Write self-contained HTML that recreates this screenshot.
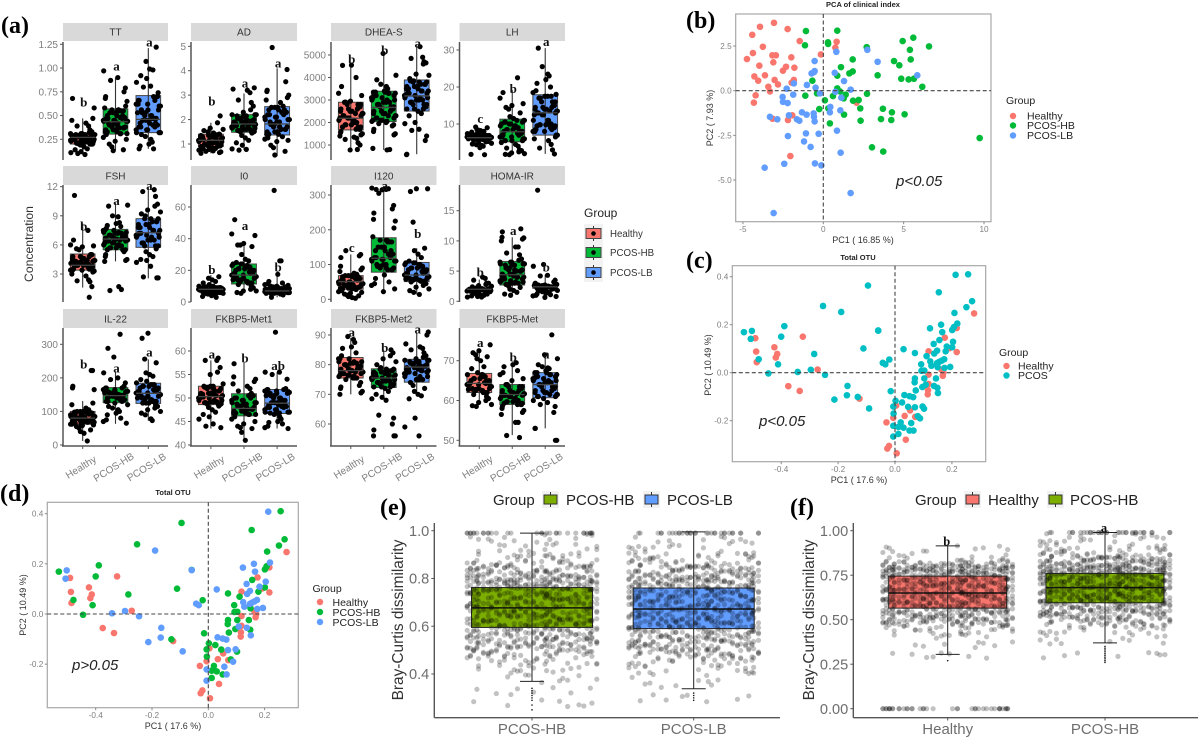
<!DOCTYPE html>
<html lang="en">
<head>
<meta charset="utf-8">
<title>Clinical index and microbiome figure</title>
<style>
html,body{margin:0;padding:0;background:#fff;}
#figure{display:block;width:1200px;height:737px;filter:blur(.35px);font-family:"Liberation Sans",sans-serif;}
.panel-letter{font-family:"Liberation Serif",serif;font-weight:bold;font-size:24px;fill:#000;}
.chart-title{font-size:7.5px;font-weight:bold;fill:#222;text-anchor:middle;}
.axis-title{font-size:9px;fill:#333;text-anchor:middle;}
.legend-title{font-size:10.5px;fill:#222;}
.legend-label{font-size:10.5px;fill:#222;}
.p-note{font-size:15px;font-style:italic;fill:#222;}
.big-legend{font-size:15px;fill:#222;}
.big-title{font-size:15.4px;fill:#333;text-anchor:middle;}
</style>
</head>
<body>
<svg id="figure" xmlns="http://www.w3.org/2000/svg" width="1200" height="737" viewBox="0 0 1200 737">
  <rect x="0" y="0" width="1200" height="737" fill="#fff"/>
  <g id="layer"></g>

  <text class="panel-letter" x="1" y="33">(a)</text>
  <text class="panel-letter" x="686" y="28">(b)</text>
  <text class="panel-letter" x="686" y="268">(c)</text>
  <text class="panel-letter" x="0" y="501">(d)</text>
  <text class="panel-letter" x="380" y="515">(e)</text>
  <text class="panel-letter" x="790" y="515">(f)</text>

  <text font-size="12.2" fill="#333" text-anchor="middle" transform="translate(33,244) rotate(-90)">Concentration</text>

  <g>
    <text x="584" y="217" font-size="12" fill="#222">Group</text>
    <rect x="584" y="224" width="19" height="58" fill="#f2f2f2"/>
    <line x1="593.5" x2="593.5" y1="226" y2="241" stroke="#333"/>
    <rect x="586" y="228.5" width="15" height="10" fill="#F8766D" stroke="#444"/>
    <circle cx="593.5" cy="233.5" r="2.3" fill="#000"/>
    <text x="610" y="237" font-size="9.7" fill="#333">Healthy</text>
    <line x1="593.5" x2="593.5" y1="245" y2="260" stroke="#333"/>
    <rect x="586" y="247.5" width="15" height="10" fill="#00BA38" stroke="#444"/>
    <circle cx="593.5" cy="252.5" r="2.3" fill="#000"/>
    <text x="610" y="256" font-size="9.7" fill="#333">PCOS-HB</text>
    <line x1="593.5" x2="593.5" y1="265" y2="280" stroke="#333"/>
    <rect x="586" y="267.5" width="15" height="10" fill="#619CFF" stroke="#444"/>
    <circle cx="593.5" cy="272.5" r="2.3" fill="#000"/>
    <text x="610" y="276" font-size="9.7" fill="#333">PCOS-LB</text>
  </g>

  <text class="chart-title" x="863" y="7">PCA of clinical index</text>
  <text class="axis-title" x="863" y="243">PC1 ( 16.85 %)</text>
  <text class="axis-title" transform="translate(713,118) rotate(-90)">PC2 ( 7.93 %)</text>
  <text class="p-note" x="896" y="186">p&lt;0.05</text>
  <g>
    <text class="legend-title" x="1006" y="104">Group</text>
    <circle cx="1013" cy="116" r="3.2" fill="#F8766D"/>
    <text class="legend-label" x="1027" y="119.5">Healthy</text>
    <circle cx="1013" cy="125.5" r="3.2" fill="#00BA38"/>
    <text class="legend-label" x="1027" y="129">PCOS-HB</text>
    <circle cx="1013" cy="135.5" r="3.2" fill="#619CFF"/>
    <text class="legend-label" x="1027" y="139">PCOS-LB</text>
  </g>

  <text class="chart-title" x="858" y="260">Total OTU</text>
  <text class="axis-title" x="859" y="483">PC1 ( 17.6 %)</text>
  <text class="axis-title" transform="translate(711,365) rotate(-90)">PC2 ( 10.49 %)</text>
  <text class="p-note" x="759" y="426">p&lt;0.05</text>
  <g>
    <text class="legend-title" x="999" y="356">Group</text>
    <circle cx="1006.5" cy="366" r="3.2" fill="#F8766D"/>
    <text class="legend-label" x="1018" y="369.5">Healthy</text>
    <circle cx="1006.5" cy="375.5" r="3.2" fill="#00BFC4"/>
    <text class="legend-label" x="1018" y="379">PCOS</text>
  </g>

  <text class="chart-title" x="173" y="495">Total OTU</text>
  <text class="axis-title" x="173" y="729">PC1 ( 17.6 %)</text>
  <text class="axis-title" transform="translate(26,605) rotate(-90)">PC2 ( 10.49 %)</text>
  <text class="p-note" x="72" y="670">p&gt;0.05</text>
  <g>
    <text class="legend-title" x="312.5" y="592">Group</text>
    <circle cx="320" cy="602" r="3.2" fill="#F8766D"/>
    <text class="legend-label" x="332.5" y="606">Healthy</text>
    <circle cx="320" cy="612" r="3.2" fill="#00BA38"/>
    <text class="legend-label" x="332.5" y="616">PCOS-HB</text>
    <circle cx="320" cy="622" r="3.2" fill="#619CFF"/>
    <text class="legend-label" x="332.5" y="626">PCOS-LB</text>
  </g>

  <g>
    <text class="big-legend" x="493" y="505">Group</text>
    <rect x="542" y="491" width="17" height="17" fill="#f2f2f2"/>
    <line x1="550.5" x2="550.5" y1="492" y2="507" stroke="#333"/>
    <rect x="544" y="495" width="13" height="9" fill="#7CAE00" stroke="#333"/>
    <text class="big-legend" x="566" y="505">PCOS-HB</text>
    <rect x="643" y="491" width="17" height="17" fill="#f2f2f2"/>
    <line x1="651.5" x2="651.5" y1="492" y2="507" stroke="#333"/>
    <rect x="645" y="495" width="13" height="9" fill="#619CFF" stroke="#333"/>
    <text class="big-legend" x="667" y="505">PCOS-LB</text>
  </g>
  <text class="big-title" transform="translate(403,620) rotate(-90)">Bray-Curtis dissimilarity</text>

  <g>
    <text class="big-legend" x="915" y="505">Group</text>
    <rect x="964" y="491" width="17" height="17" fill="#f2f2f2"/>
    <line x1="972.5" x2="972.5" y1="492" y2="507" stroke="#333"/>
    <rect x="966" y="495" width="13" height="9" fill="#F8766D" stroke="#333"/>
    <text class="big-legend" x="988" y="505">Healthy</text>
    <rect x="1047" y="491" width="17" height="17" fill="#f2f2f2"/>
    <line x1="1055.5" x2="1055.5" y1="492" y2="507" stroke="#333"/>
    <rect x="1049" y="495" width="13" height="9" fill="#7CAE00" stroke="#333"/>
    <text class="big-legend" x="1070" y="505">PCOS-HB</text>
  </g>
  <text class="big-title" transform="translate(814,620) rotate(-90)">Bray-Curtis dissimilarity</text>
</svg>

<script>
const categories = ['Healthy','PCOS-HB','PCOS-LB'];
const pointJitter = [-.31,.12,-.05,.28,-.19,.35,.02,-.36,.2,-.11,.31,-.25,.07,-.02,.24,-.33,.16,-.15,.37,-.07,.1,-.28,.3,-.21,.04,.18,-.37,.26,-.09,.14,-.17,.33,-.3,.08,-.23,.22,-.01];

const ttTicks = [.25,.5,.75,1,1.25];
const ttBoxes = [[.09,.2,.27,.31,.47],[.135,.305,.435,.57,.9],[.15,.32,.46,.71,1.21]];
const ttLetters = ['b','a','a'];
const ttLetterY = [.636,1.015,1.27];
const ttHealthy = [.68,.58,.47,.45,.42,.39,.39,.35,.33,.32,.31,.3,.3,.29,.28,.27,.27,.26,.25,.25,.24,.23,.22,.21,.2,.2,.19,.17,.15,.14,.12,.11,.09,.1];
const ttHB = [.97,.9,.87,.79,.75,.7,.68,.65,.6,.58,.56,.55,.53,.5,.48,.47,.45,.44,.42,.4,.38,.37,.35,.33,.31,.3,.27,.25,.23,.2,.17,.14,.13];
const ttLB = [1.22,1.07,.99,.98,.92,.89,.85,.81,.8,.74,.7,.66,.62,.6,.56,.53,.5,.47,.45,.42,.4,.38,.35,.32,.3,.28,.25,.22,.2,.18,.15,.15];

const adTicks = [1,2,3,4,5];
const adBoxes = [[.62,.9,1.15,1.4,1.87],[.75,1.48,1.82,2.2,3.07],[.5,1.37,1.82,2.53,4.1]];
const adLetters = ['b','a','a'];
const adLetterY = [2.73,3.48,4.3];
const adHealthy = [2.15,1.87,1.65,1.6,1.55,1.5,1.45,1.4,1.35,1.3,1.25,1.2,1.15,1.1,1.05,1,.95,.92,.9,.85,.82,.8,.78,.75,.72,.7,.68,.65,.62];
const adHB = [3.3,3.25,3.2,3.1,2.8,2.7,2.55,2.4,2.3,2.2,2.15,2.05,2,1.95,1.9,1.85,1.8,1.75,1.7,1.65,1.6,1.55,1.5,1.45,1.35,1.25,1.15,1.05,.95,.8,.78,.75];
const adLB = [4.95,4.05,3.55,3.2,3.15,3,2.9,2.8,2.7,2.55,2.5,2.4,2.3,2.2,2.1,2,1.9,1.8,1.7,1.6,1.5,1.4,1.3,1.25,1.2,1.15,1.1,.95,.85,.7,.55];

const dheaTicks = [1000,2000,3000,4000,5000];
const dheaBoxes = [[780,1670,2190,2900,4550],[780,2040,2670,3390,5070],[590,2510,3180,3890,5370]];
const dheaLetters = ['b','b','a'];
const dheaLetterY = [4807,5190,5520];
const dheaHealthy = [4550,4540,4000,3600,3300,3200,2950,2900,2800,2700,2600,2500,2400,2300,2200,2100,2000,1900,1800,1700,1600,1550,1500,1450,1400,1350,1300,1250,1100,1000,800,780];
const dheaHB = [5070,4100,3900,3700,3600,3500,3400,3350,3300,3200,3100,3000,2900,2800,2700,2600,2500,2400,2300,2200,2100,2050,2000,1950,1900,1850,1700,1600,1500,1450,850,780,800];
const dheaLB = [5370,4900,4850,4700,4650,4600,4150,4100,3950,3850,3800,3700,3600,3500,3400,3300,3200,3100,3000,2900,2800,2700,2600,2500,2400,2300,2000,1950,1700,1650,1400,1200,590,570];

const lhTicks = [10,20,30];
const lhBoxes = [[3,5.7,6.3,7,9],[1.8,5.2,7.9,11.3,19.2],[1.9,7,13,17.9,30.5]];
const lhLetters = ['c','b','a'];
const lhLetterY = [11.3,19.4,32.2];
const lhHealthy = [9.2,9,8.5,8.2,8,7.8,7.6,7.4,7.2,7,6.9,6.8,6.6,6.5,6.4,6.2,6,5.9,5.8,5.6,5.5,5.3,5.2,5,4.8,4.6,4.4,4.2,4,3.6,1.8,1.7];
const lhHB = [22.5,18.5,17,15.5,15,14.5,14,13,12,11.5,11,10.5,10,9.5,9,8.5,8,7.5,7,6.5,6,5.5,5,4.5,4,3.5,3,2.8,2.5,2.2,2,1.8,1.7];
const lhLB = [30.5,25.5,23.5,23,22,21,20,19,18.5,18,17.5,17,16,15,14.5,14,13.5,13,12.5,11,10,9.8,9.5,9,8.5,8,7,6.5,6,5.5,4.5,3.5,3,1.9];

const fshTicks = [3,6,9,12];
const fshBoxes = [[1.6,3.4,3.9,5.06,8.2],[4.3,5.5,6.6,7.6,10.3],[2.55,5.75,7.25,8.7,12]];
const fshLetters = ['b','a','a'];
const fshLetterY = [7.9,10.55,12.07];
const fshHealthy = [11.1,7.5,6.5,6,5.9,5.8,5.6,5.5,5,4.8,4.6,4.4,4.3,4.2,4.1,4,3.9,3.8,3.7,3.5,3.4,3.3,3.2,3,2.8,2.4,2.3,2.2,1.7,.6];
const fshHB = [10.1,10,9,8.9,8.3,8.2,8,7.9,7.7,7.5,7.3,7.2,7,6.9,6.8,6.7,6.6,6.5,6.4,6.2,6,5.9,5.7,5.5,5.3,5,4.8,4.5,4.4,4.3,1.7,1.4,1.3];
const fshLB = [11.7,11.5,11,10.2,10,9.6,9.4,9.2,9,8.7,8.4,8.1,7.8,7.5,7.2,7,6.8,6.5,6.2,5.9,5.6,5.3,5,4.8,4.5,4.4,4.2,3.8,2.7,2.6,2.6];

const i0Ticks = [0,20,40,60];
const i0Boxes = [[2.7,6.5,8,9.7,17],[5.5,11.4,17,24,37],[3,5.5,7,8.5,18]];
const i0Letters = ['b','a','b'];
const i0LetterY = [20.2,48,21.9];
const i0Healthy = [16,15,14,13,12,11,10,10,9.5,9,9,8.5,8,8,7.5,7.5,7,7,6.5,6.5,6,6,5.5,5.5,5,5,4.5,4.5,4,3.5,3];
const i0HB = [52,43,42,37,36,36,35,30,27,26,25,24,23,22,21,20,19,18,17,16,15,14,13,12,11,10,9,8,7,7,6,5.5];
const i0LB = [70.5,26,26,17.5,13,12,11.5,11,10.5,10,10,9.5,9.5,9,9,8.5,8.5,8,8,7.5,7.5,7,7,6.5,6.5,6,6,5.5,5,4.5,3];

const i120Ticks = [0,100,200,300];
const i120Boxes = [[3,29,51,68,129],[22,78,118,177,326],[14,51,70,106,147]];
const i120Letters = ['c','a','b'];
const i120LetterY = [147,326,188];
const i120Healthy = [140,129,125,120,95,90,85,80,75,72,68,65,60,55,50,45,42,40,38,35,32,30,28,25,22,20,18,15,12,10,8,5,3];
const i120HB = [318,318,316,315,320,316,305,270,260,248,230,225,205,180,170,165,150,140,130,120,115,110,100,95,90,85,70,60,50,45,40,30,22];
const i120LB = [318,318,310,222,147,140,130,120,110,105,100,95,90,85,80,75,70,65,60,58,55,52,50,48,45,40,35,30,25,20,14];

const homaTicks = [0,5,10,15];
const homaBoxes = [[.65,1.75,2,2.15,3.6],[1,2.7,4.4,6.6,10.6],[.65,2.15,2.4,2.7,4.4]];
const homaLetters = ['b','a','b'];
const homaLetterY = [4.75,11.65,5.6];
const homaHealthy = [4,3.8,3.5,3,3,2.8,2.6,2.5,2.4,2.2,2.1,2,2,1.9,1.8,1.7,1.7,1.6,1.5,1.4,1.3,1.2,1.1,1,1,.9,.8,.7,.7];
const homaHB = [12,11.5,10.6,10.5,10.3,10,9,9,8,7.7,7,6.8,6.5,6.2,6,5.5,5.2,5,4.5,4.2,4,3.7,3.4,3.2,3,2.8,2.5,2.3,2,1.8,1.5,1.2,1];
const homaLB = [18.4,6.1,5.8,4.3,4.2,3.5,3.2,3,2.9,2.8,2.7,2.6,2.5,2.4,2.3,2.2,2.1,2,1.9,1.8,1.7,1.6,1.5,1.4,1.3,1.2,1.1,1,.9,.8,.65];

const il22Ticks = [0,100,200,300];
const il22Boxes = [[12,62,80,100,131],[63,126,147,171,218],[72,124,154,184,255]];
const il22Letters = ['b','a','a'];
const il22LetterY = [240,228,276];
const il22Healthy = [222,222,175,170,165,125,120,110,105,100,98,95,92,90,85,82,80,78,75,72,70,68,65,62,60,58,55,50,45,40,35,12];
const il22HB = [330,288,262,215,200,195,185,175,170,165,160,158,155,150,148,145,140,135,130,125,120,115,110,105,100,95,90,80,75,70,65];
const il22LB = [333,318,256,245,215,210,205,195,190,185,180,175,170,165,160,155,150,145,140,135,130,125,120,115,110,105,100,95,90,78,73];

const met1Ticks = [40,45,50,55,60];
const met1Boxes = [[43.5,48.6,50.3,52.5,58],[41,46.2,47.8,50.9,57.5],[43.5,46.7,48.9,51.8,55.5]];
const met1Letters = ['a','b','ab'];
const met1LetterY = [59.3,58.4,56.8];
const met1Healthy = [58,58,58.5,56.5,55.5,55,53,52.5,52.3,52,51.5,51,50.8,50.5,50.2,50,49.5,49.2,49,48.7,48.3,48,47.5,47,46.5,46,45.5,44.5,44,43.7];
const met1HB = [57.3,54.5,54,53.5,53,52.5,52,51.5,51,50.5,50,49.5,49,48.7,48.3,48,47.6,47.2,46.8,46.5,46,45.5,45,44.5,44,43.7,43.5,42.7,41];
const met1LB = [64,55.5,55.5,55,54,52,51.8,51.5,51.2,51,50.5,50,49.5,49,48.5,48.2,48,47.5,47,46.8,46.5,46,45.5,45,44.8,44.5,44,43.7,43.5];

const met2Ticks = [60,70,80,90];
const met2Boxes = [[70,75.5,78,82.4,89],[68.3,72.3,75.5,78.6,84.8],[69.6,74.1,79.2,81.8,90.7]];
const met2Letters = ['a','b','a'];
const met2LetterY = [90.9,85.6,91.8];
const met2Healthy = [89.5,88.5,87.5,86,85.5,84,83,82,81,80.5,80,79.5,79,78.5,78,77.5,77,76.5,76,75.5,75,74,73,72.5,72,71,70.5,70];
const met2HB = [85,84,83,82,81,80,79,78.5,78,77.5,77,76.5,76,75.5,75,74.5,74,73.5,73,72.5,72,71,70,69,68.5,68,63,62,60,58,56,56,56];
const met2LB = [91,90,87,86,85.5,85,84,83,82.5,82,81.5,81,80.5,80,79.5,79,78.5,78,77.5,77,76,75,74,73,72,71,70,69.5,68.5,62,59,56];

const metTicks = [50,60,70];
const metBoxes = [[59.3,62,64.3,66.8,72.3],[51.3,59,61.5,64,69.6],[53,60.7,64,67,71.8]];
const metLetters = ['a','b','a'];
const metLetterY = [74.5,70.8,71.6];
const metHealthy = [74,72.5,72,71.5,71,70.5,70,68.5,68,67,66.5,66,65.5,65,64.5,64.3,64,63.5,63,62.8,62.5,62,61.5,61,60.5,60,59.5,59,58.7,58.5];
const metHB = [69.5,69,68.5,67.5,67,66.5,65.5,65,64,63.5,63,62.5,62,61.7,61.3,61,60.5,60,59.7,59.3,59,58.5,58,57.5,57,56.5,54.5,54.5,51.2,50.7];
const metLB = [76.5,71.5,70.5,69,68.5,68.2,68,67.5,67,66.5,66,65.5,65,64.5,64,63.5,63,62.5,62,61.5,61,60.5,60,59.5,59,58.5,57,53,53,50,50];

const pcaHealthy = [[-3.07,3.8],[-3.94,3.58],[-2.22,3.45],[-4.42,3.13],[-1.47,2.78],[.83,2.74],[.75,2.41],[-3.76,2.46],[-4.38,2.11],[-3.17,1.98],[-2.95,1.98],[-.15,2.03],[-1.99,1.87],[-4.75,1.77],[-3.11,1.59],[-3.98,1.4],[-2.32,1.34],[-2.51,1.12],[-1.8,1.29],[-4.29,.8],[-3.63,.86],[-4.05,.56],[-3.03,.6],[-2.82,.35],[-1.83,.6],[-1.97,.45],[-3.42,.22],[-3.32,-.04],[-4.21,-.26],[-4.32,-.67],[2.07,-.67],[-3.15,-1.57],[-1.93,-1.38],[-2.2,-1.64],[-2.05,-3.66]];
const pcaHB = [[-1.08,3.34],[.87,3.36],[-1.14,2.54],[.29,2.71],[.3,2.62],[4.94,2.78],[5.6,2.97],[6.58,2.48],[5.39,2.29],[2.7,2.44],[4.4,1.66],[5.44,1.75],[4.73,1.42],[1.83,1.75],[1.1,1.32],[1.83,1.08],[1.62,.97],[.87,.84],[3.38,.86],[4.85,.67],[5.31,.63],[5.64,.67],[6.16,.22],[-.68,.56],[.87,.13],[1.04,-.04],[1.39,-.22],[1.27,-.43],[-1.12,-.28],[-.39,-.15],[.6,-.3],[2.72,-.17],[.1,-.54],[1.85,-.56],[2.2,-.52],[2.3,-.99],[3.71,-1.01],[-.25,-1.03],[.31,-.99],[4.27,-1.21],[1.29,-1.34],[5.06,-1.32],[3.59,-1.59],[4.23,-1.64],[2.32,-1.68],[.41,-1.83],[3.03,-3.17],[3.73,-3.41],[9.73,-2.65]];
const pcaLB = [[.81,2.18],[2.74,2.29],[3.38,1.62],[-.54,1.66],[-.54,1.1],[-.73,.97],[-.58,1.04],[.71,1],[5.85,.86],[1.29,.54],[-1.02,.32],[-1.83,.41],[-2.28,.11],[-.48,.17],[1.7,.06],[-.21,-.15],[.75,-.06],[-1.87,-.22],[-2.53,-.35],[-2.51,-.62],[-2.22,-.69],[1.12,-.39],[.44,-.91],[.41,-1.21],[1.06,-1.1],[-3.32,-1.46],[-2.86,-1.6],[-2.14,-1.38],[-1.64,-1.6],[-1.49,-1.68],[-1.33,-1.21],[-1.04,-1.34],[-.6,-1.27],[-.58,-1.46],[-.54,-1.72],[.85,-2.24],[-1.08,-2.39],[-2.2,-2.54],[-.29,-2.41],[-1.2,-2.84],[-.79,-3.15],[1.08,-3.47],[-3.65,-4.31],[-2.43,-4.09],[-.52,-4.07],[-.12,-4.18],[1.7,-5.73],[-3.09,-6.85]];

const otuHealthy = [[.278,.247],[.217,.186],[.175,.146],[.192,.102],[.217,.086],[.118,.089],[.163,.013],[.17,0],[.168,-.013],[.118,-.008],[.118,-.047],[.116,-.073],[.115,-.09],[.004,-.137],[.053,-.157],[.034,-.18],[-.006,-.188],[.071,-.184],[-.03,-.207],[.038,-.279],[-.021,-.305],[-.027,-.316],[.006,-.336],[-.491,.144],[-.488,.088],[-.486,.044],[-.324,.15],[-.424,.106],[-.414,.078],[-.419,.063],[-.272,.013],[-.375,-.056],[-.335,-.076],[-.125,-.108]];
const otuHB = [[.257,.41],[.154,.335],[.271,.298],[.251,.273],[.209,.249],[.207,.19],[.201,.178],[.156,.136],[.201,.106],[.178,.089],[.07,.082],[-.111,.101],[.111,.069],[-.02,.055],[.092,.035],[.15,.023],[.093,.008],[.103,.009],[.103,-.024],[.07,-.024],[.069,-.04],[.144,-.024],[.096,-.06],[.149,-.063],[.073,-.074],[-.015,-.077],[.002,-.117],[.025,-.124],[-.006,-.141],[.046,-.142],[.102,-.15],[-.005,-.17],[.08,-.181],[.02,-.207],[.02,-.223],[.012,-.226],[.03,-.229],[.051,-.241],[.012,-.255],[-.531,.169],[-.479,.056],[-.389,.194],[-.4,.15],[-.411,.035],[-.445,-.003],[-.284,.078],[-.253,.278],[-.095,.363],[-.059,.176],[-.131,-.101]];
const otuLB = [[.213,.408],[.219,.205],[.162,.2],[.123,.185],[.166,.169],[.204,.129],[.136,.12],[.182,.109],[.148,.092],[.138,.08],[.03,.098],[.173,.056],[.164,.05],[-.043,.041],[-.034,.035],[.124,.047],[.128,.029],[.148,.04],[.155,.045],[.174,.02],[.194,.024],[.108,-.05],[.137,-.055],[.151,-.085],[.033,-.093],[.051,-.098],[.064,-.102],[.07,-.144],[.097,-.141],[.088,-.19],[.057,-.21],[-.006,-.221],[.065,-.241],[-.006,-.266],[-.503,.174],[-.507,.141],[-.342,.003],[-.296,.012],[-.246,-.009],[-.189,.253],[-.059,.175],[-.167,-.055],[-.213,-.112],[-.169,-.094],[-.091,-.149]];

const pcaXTicks = [-5,0,5,10];
const pcaYTicks = [-5,-2.5,0,2.5];
const otuXTicks = [-.4,-.2,0,.2];
const otuYTicks = [-.2,0,.2,.4];

const cloudJitter = [-.38,.11,-.07,.29,-.22,.37,.03,-.33,.19,-.13,.32,-.27,.08,-.02,.24,-.36,.15,-.17,.4,-.09,.06,-.3,.34,-.2,.01,.17,-.4,.27,-.11,.13,-.15,.36,-.25,.09,-.04,.22,-.34];
const cloudNudge = [.008,-.012,.004,.015,-.006,-.016,.011,-.002,.013,-.009,.006,-.014,.002];

const eTicks = [.4,.6,.8,1];
const eCategories = ['PCOS-HB','PCOS-LB'];
const eBoxes = [[.369,.595,.677,.762,.99],[.338,.59,.672,.76,.995]];
const eValuesHB = [.99,.99,.99,.99,.97,.95,.93,.91,.89,.88,.87,.86,.85,.85,.84,.84,.83,.83,.82,.82,.81,.81,.8,.8,.8,.79,.79,.79,.78,.78,.78,.77,.77,.77,.76,.76,.76,.75,.75,.74,.74,.73,.73,.72,.72,.71,.71,.7,.7,.69,.69,.68,.68,.67,.67,.66,.66,.65,.65,.64,.64,.63,.63,.62,.62,.61,.61,.6,.6,.59,.59,.58,.58,.57,.57,.56,.56,.55,.55,.54,.54,.53,.53,.52,.52,.51,.51,.5,.5,.49,.48,.47,.46,.45,.43,.41,.38,.33,.28];
const eValuesLB = [.99,.99,.99,.99,.96,.94,.92,.9,.89,.88,.87,.86,.85,.85,.84,.84,.83,.83,.82,.82,.81,.81,.8,.8,.8,.79,.79,.79,.78,.78,.77,.77,.76,.76,.76,.75,.75,.74,.74,.73,.73,.72,.72,.71,.71,.7,.7,.69,.69,.68,.68,.67,.67,.66,.66,.65,.65,.64,.64,.63,.63,.62,.62,.61,.61,.6,.6,.59,.59,.58,.58,.57,.57,.56,.56,.55,.55,.54,.54,.53,.53,.52,.52,.51,.51,.5,.5,.49,.49,.48,.47,.46,.45,.44,.42,.4,.36,.3];
const eOutliersHB = [.34,.33,.32,.31,.3,.29,.27,.25];
const eOutliersLB = [.32,.31,.3,.29];

const fTicks = [0,.25,.5,.75,1];
const fCategories = ['Healthy','PCOS-HB'];
const fBoxes = [[.305,.565,.65,.745,.915],[.37,.595,.68,.76,.99]];
const fLetters = ['b','a'];
const fLetterY = [.94,1.015];
const fValuesHealthy = [.9,.87,.84,.82,.82,.81,.81,.8,.8,.8,.79,.79,.79,.78,.78,.78,.77,.77,.77,.76,.76,.76,.75,.75,.74,.74,.73,.73,.72,.72,.71,.71,.7,.7,.69,.69,.68,.68,.67,.67,.66,.66,.65,.65,.64,.64,.63,.63,.62,.62,.61,.61,.6,.6,.59,.59,.58,.58,.57,.57,.56,.56,.55,.55,.54,.54,.53,.53,.52,.52,.51,.51,.5,.5,.49,.49,.48,.48,.47,.46,.45,.43,.41,.36,.3,0,0,0,0,0];
const fValuesHB = [.99,.99,.99,.99,.97,.95,.93,.91,.89,.88,.87,.86,.85,.85,.84,.84,.83,.83,.82,.82,.81,.81,.8,.8,.8,.79,.79,.79,.78,.78,.78,.77,.77,.77,.76,.76,.76,.75,.75,.74,.74,.73,.73,.72,.72,.71,.71,.7,.7,.69,.69,.68,.68,.67,.67,.66,.66,.65,.65,.64,.64,.63,.63,.62,.62,.61,.61,.6,.6,.59,.59,.58,.58,.57,.57,.56,.56,.55,.55,.54,.54,.53,.53,.52,.52,.51,.5,.5,.49,.48,.47,.46,.44,.42,.38,.3];
const fOutliersHealthy = [.27];
const fOutliersHB = [.35,.34,.33,.32,.31,.3,.29,.28,.27,.26];

const layer = document.getElementById('layer');
const SVGNS = 'http://www.w3.org/2000/svg';
const groupFill = ['#F8766D','#00BA38','#619CFF'];

function mk(tag, attrs, parent) {
  const e = document.createElementNS(SVGNS, tag);
  for (const k in attrs) e.setAttribute(k, attrs[k]);
  (parent || layer).appendChild(e);
  return e;
}
function linear(d0, d1, r0, r1) {
  return v => r0 + (v - d0) * (r1 - r0) / (d1 - d0);
}

function drawFacet(name, col, row, calib, ticks, digits, boxes, series, letters, letterY) {
  const cols = [[63,168],[191,297],[331,436.5],[459.5,565]];
  const rows = [[42,160],[185,302],[328,446]];
  const strips = [[23,41],[166,185],[309,328]];
  const x0 = cols[col][0], x1 = cols[col][1];
  const top = rows[row][0], bot = rows[row][1];
  const g = mk('g', {});
  
  
  const y = linear(calib[0], calib[1], calib[2], calib[3]);
  const unit = (x1 - x0) / 3.2;
  const xc = i => x0 + unit * (.6 + i);

  const strip = mk('rect', {x:x0, y:strips[row][0], width:x1-x0, height:strips[row][1]-strips[row][0], fill:'#d9d9d9'}, g);
  
  
  const stripText = mk('text', {x:(x0+x1)/2, y:strips[row][1]-5.5, 'font-size':10, fill:'#333', 'text-anchor':'middle'}, g);
  
  
  stripText.textContent = name;

  const axis = mk('line', {x1:x0, x2:x0, y1:top, y2:bot, stroke:'#555', 'stroke-width':1.5}, g);
  
  
  ticks.forEach(t => {
    const tick = mk('line', {x1:x0-3, x2:x0, y1:y(t), y2:y(t), stroke:'#555', 'stroke-width':1}, g);
    
    
    const lab = mk('text', {x:x0-5, y:y(t)+3.5, 'font-size':10, fill:'#7f7f7f', 'text-anchor':'end'}, g);
    
    
    lab.textContent = t.toFixed(digits);
  });
  if (row === 2) {
    const xAxis = mk('line', {x1:x0-1, x2:x1, y1:bot, y2:bot, stroke:'#555', 'stroke-width':1.5}, g);
    
    
    categories.forEach((c, i) => {
      const tick = mk('line', {x1:xc(i), x2:xc(i), y1:bot, y2:bot+3, stroke:'#555'}, g);
      
      
      const lab = mk('text', {'font-size':10, fill:'#7f7f7f', 'text-anchor':'middle', transform:'translate(' + xc(i) + ',' + (bot+24) + ') rotate(-32)'}, g);
      
      
      lab.textContent = c;
    });
  }

  boxes.forEach((b, i) => {
    const w = unit * .75;
    const box = mk('rect', {x:xc(i)-w/2, y:y(b[3]), width:w, height:y(b[1])-y(b[3]), fill:groupFill[i], stroke:'#444', 'stroke-width':1}, g);
    
    
    const whisk = mk('line', {x1:xc(i), x2:xc(i), y1:y(b[4]), y2:y(b[0]), stroke:'#333', 'stroke-width':1.1}, g);
    
    
    series[i].forEach((v, k) => {
      const copies = (v >= b[1] && v <= b[3]) ? 3 : 1;
      for (let c = 0; c < copies; c++) {
        const jit = pointJitter[(k * 5 + i * 7 + col * 3 + row * 11 + c * 13) % pointJitter.length];
        const dot = mk('circle', {cx:xc(i) + jit * unit, cy:y(v), r:2.6, fill:'#000'}, g);
        
        
      }
    });
    const med = mk('line', {x1:xc(i)-w/2, x2:xc(i)+w/2, y1:y(b[2]), y2:y(b[2]), stroke:'#444', 'stroke-width':1.3}, g);
    
    
    const let1 = mk('text', {x:xc(i)+1, y:y(letterY[i])+4, 'font-size':13, 'font-weight':'bold', 'font-family':'"Liberation Serif",serif', fill:'#111', 'text-anchor':'middle'}, g);
    
    
    let1.textContent = letters[i];
  });
}

drawFacet('TT',0,0,[.25,1.25,139.3,44.3],ttTicks,2,ttBoxes,[ttHealthy,ttHB,ttLB],ttLetters,ttLetterY);
drawFacet('AD',1,0,[1,5,144,46.3],adTicks,0,adBoxes,[adHealthy,adHB,adLB],adLetters,adLetterY);
drawFacet('DHEA-S',2,0,[1000,5000,145,55],dheaTicks,0,dheaBoxes,[dheaHealthy,dheaHB,dheaLB],dheaLetters,dheaLetterY);
drawFacet('LH',3,0,[10,30,124,50],lhTicks,0,lhBoxes,[lhHealthy,lhHB,lhLB],lhLetters,lhLetterY);
drawFacet('FSH',0,1,[3,12,274,186.7],fshTicks,0,fshBoxes,[fshHealthy,fshHB,fshLB],fshLetters,fshLetterY);
drawFacet('I0',1,1,[0,60,302,207],i0Ticks,0,i0Boxes,[i0Healthy,i0HB,i0LB],i0Letters,i0LetterY);
drawFacet('I120',2,1,[0,300,299.3,195],i120Ticks,0,i120Boxes,[i120Healthy,i120HB,i120LB],i120Letters,i120LetterY);
drawFacet('HOMA-IR',3,1,[0,15,301.3,210.7],homaTicks,0,homaBoxes,[homaHealthy,homaHB,homaLB],homaLetters,homaLetterY);
drawFacet('IL-22',0,2,[0,300,445,344.3],il22Ticks,0,il22Boxes,[il22Healthy,il22HB,il22LB],il22Letters,il22LetterY);
drawFacet('FKBP5-Met1',1,2,[40,60,445,351],met1Ticks,0,met1Boxes,[met1Healthy,met1HB,met1LB],met1Letters,met1LetterY);
drawFacet('FKBP5-Met2',2,2,[60,90,424,335],met2Ticks,0,met2Boxes,[met2Healthy,met2HB,met2LB],met2Letters,met2LetterY);
drawFacet('FKBP5-Met',3,2,[50,70,440.3,360.7],metTicks,0,metBoxes,[metHealthy,metHB,metLB],metLetters,metLetterY);

function drawScatter(name, frame, sx, sy, xTicks, yTicks, layers) {
  const g = mk('g', {});
  
  
  const bg = mk('rect', {x:frame[0], y:frame[1], width:frame[2]-frame[0], height:frame[3]-frame[1], fill:'#fff', stroke:'#a8a8a8', 'stroke-width':1.2}, g);
  
  
  xTicks.forEach(t => {
    const tick = mk('line', {x1:sx(t), x2:sx(t), y1:frame[3], y2:frame[3]+2.5, stroke:'#888'}, g);
    
    
    const lab = mk('text', {x:sx(t), y:frame[3]+10.5, 'font-size':8.2, fill:'#7f7f7f', 'text-anchor':'middle'}, g);
    
    
    lab.textContent = t.toFixed(name === 'b' ? 0 : 1);
  });
  yTicks.forEach(t => {
    const tick = mk('line', {x1:frame[0]-2.5, x2:frame[0], y1:sy(t), y2:sy(t), stroke:'#888'}, g);
    
    
    const lab = mk('text', {x:frame[0]-4, y:sy(t)+3, 'font-size':8.2, fill:'#7f7f7f', 'text-anchor':'end'}, g);
    
    
    lab.textContent = t.toFixed(1);
  });
  layers.forEach(l => {
    l.points.forEach(p => {
      const dot = mk('circle', {cx:sx(p[0]), cy:sy(p[1]), r:3.3, fill:l.color}, g);
      
      
    });
  });
  const h = mk('line', {x1:frame[0], x2:frame[2], y1:sy(0), y2:sy(0), stroke:'#444', 'stroke-width':1.1, 'stroke-dasharray':'4 2.5'}, g);
  
  
  const v = mk('line', {x1:sx(0), x2:sx(0), y1:frame[1], y2:frame[3], stroke:'#444', 'stroke-width':1.1, 'stroke-dasharray':'4 2.5'}, g);
  
  
}

drawScatter('b',[735.7,14,991,221.7],linear(0,10,823.3,984),linear(0,-5,90.7,180),pcaXTicks,pcaYTicks,[
  {label:'healthy',color:'#F8766D',points:pcaHealthy},
  {label:'pcos-hb',color:'#00BA38',points:pcaHB},
  {label:'pcos-lb',color:'#619CFF',points:pcaLB}]);
drawScatter('c',[732.3,265.7,985.7,461.7],linear(0,.2,895,951.9),linear(0,.4,372.7,276.7),otuXTicks,otuYTicks,[
  {label:'healthy',color:'#F8766D',points:otuHealthy},
  {label:'pcos',color:'#00BFC4',points:otuHB},
  {label:'pcos',color:'#00BFC4',points:otuLB}]);
drawScatter('d',[47.3,502.3,298.3,707.7],linear(0,.2,208.3,264.6),linear(0,.4,614,513.7),otuXTicks,otuYTicks,[
  {label:'healthy',color:'#F8766D',points:otuHealthy},
  {label:'pcos-hb',color:'#00BA38',points:otuHB},
  {label:'pcos-lb',color:'#619CFF',points:otuLB}]);

function drawCloud(name, axisX, rightX, sy, ticks, tickDigits, cats, centers, halfBox, halfCap, boxes, fills, clouds, outliers, letters, letterY) {
  const g = mk('g', {});
  
  
  const yAxis = mk('line', {x1:axisX, x2:axisX, y1:523, y2:717.7, stroke:'#555', 'stroke-width':1.4}, g);
  
  
  const xAxis = mk('line', {x1:axisX, x2:rightX, y1:717.7, y2:717.7, stroke:'#555', 'stroke-width':1.4}, g);
  
  
  ticks.forEach(t => {
    const tick = mk('line', {x1:axisX-3, x2:axisX, y1:sy(t), y2:sy(t), stroke:'#555'}, g);
    
    
    const lab = mk('text', {x:axisX-5, y:sy(t)+5.2, 'font-size':14.6, fill:'#6e6e6e', 'text-anchor':'end'}, g);
    
    
    lab.textContent = t.toFixed(tickDigits);
  });
  cats.forEach((c, i) => {
    const cx = centers[i];
    const tick = mk('line', {x1:cx, x2:cx, y1:717.7, y2:720.5, stroke:'#555'}, g);
    
    
    const lab = mk('text', {x:cx, y:734, 'font-size':15, fill:'#6e6e6e', 'text-anchor':'middle'}, g);
    
    
    lab.textContent = c;
    const b = boxes[i];
    const box = mk('rect', {x:cx-halfBox, y:sy(b[3]), width:2*halfBox, height:sy(b[1])-sy(b[3]), fill:fills[i]}, g);
    
    
    clouds[i].forEach((v, k) => {
      for (let copy = 0; copy < 8; copy++) {
        const jit = cloudJitter[(k * 11 + copy * 5 + i * 3) % cloudJitter.length];
        const edge = v === 0 || v >= .985;
        const nudge = edge ? 0 : cloudNudge[(k + copy * 4) % cloudNudge.length];
        const dot = mk('circle', {cx:cx + jit * 162, cy:sy(v + nudge), r:2.6, fill:'#000', 'fill-opacity':.24}, g);
        
        
      }
    });
    const outline = mk('rect', {x:cx-halfBox, y:sy(b[3]), width:2*halfBox, height:sy(b[1])-sy(b[3]), fill:'none', stroke:'#222', 'stroke-width':1}, g);
    
    
    const med = mk('line', {x1:cx-halfBox, x2:cx+halfBox, y1:sy(b[2]), y2:sy(b[2]), stroke:'#111', 'stroke-width':1.5}, g);
    
    
    const whisk = mk('line', {x1:cx, x2:cx, y1:sy(b[4]), y2:sy(b[0]), stroke:'#222', 'stroke-width':1}, g);
    
    
    [b[4], b[0]].forEach(capV => {
      const cap = mk('line', {x1:cx-halfCap, x2:cx+halfCap, y1:sy(capV), y2:sy(capV), stroke:'#222', 'stroke-width':1}, g);
      
      
    });
    outliers[i].forEach(v => {
      const o = mk('circle', {cx:cx, cy:sy(v), r:.8, fill:'#111'}, g);
      
      
    });
    if (letters) {
      const let1 = mk('text', {x:cx-1, y:sy(letterY[i])+4, 'font-size':12.5, 'font-weight':'bold', 'font-family':'"Liberation Serif",serif', fill:'#111', 'text-anchor':'middle'}, g);
      
      
      let1.textContent = letters[i];
    }
  });
}

drawCloud('e',434.3,780,linear(.4,1,674,530.7),eTicks,1,eCategories,[532,693.7],60.5,12,eBoxes,['#7CAE00','#619CFF'],[eValuesHB,eValuesLB],[eOutliersHB,eOutliersLB],null,null);
drawCloud('f',853.3,1198,linear(0,1,708.7,530.7),fTicks,2,fCategories,[947.7,1105],59,12,fBoxes,['#F8766D','#7CAE00'],[fValuesHealthy,fValuesHB],[fOutliersHealthy,fOutliersHB],fLetters,fLetterY);
</script>
</body>
</html>
